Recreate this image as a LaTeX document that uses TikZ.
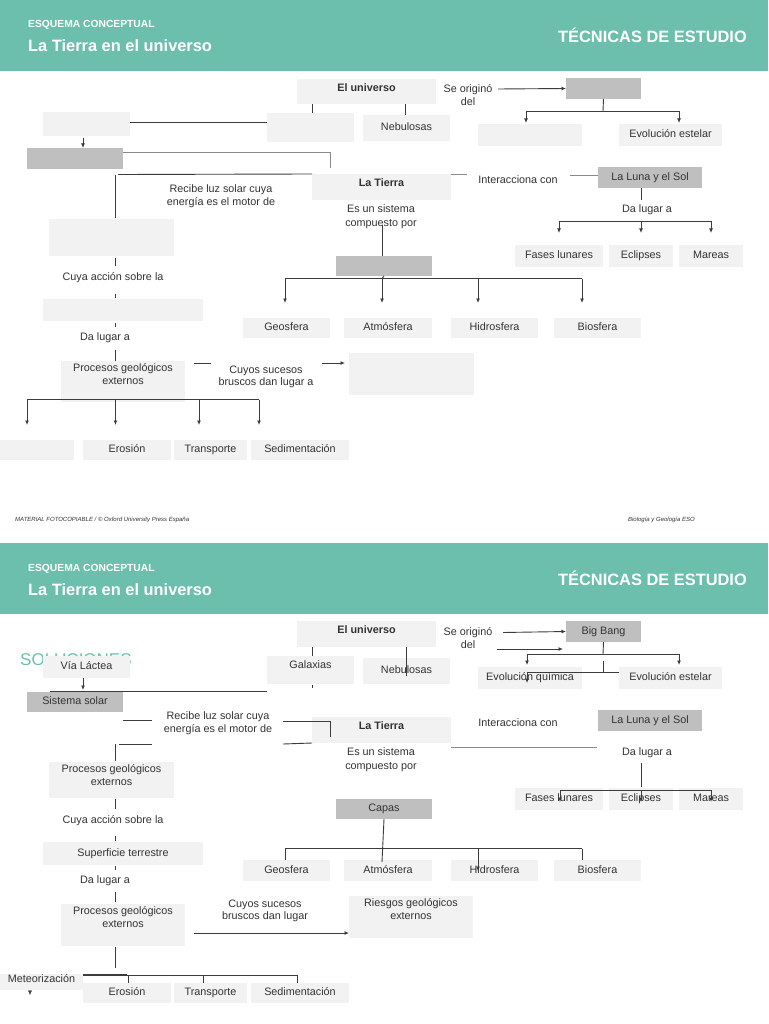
\documentclass[tikz,border=0pt]{standalone}
\usepackage{fontspec}
\setmainfont{Liberation Sans}
\usetikzlibrary{arrows.meta}
\definecolor{hdr}{HTML}{6CBFAD}
\definecolor{lgbox}{HTML}{F2F2F2}
\definecolor{dgbox}{HTML}{BFBFBF}
\definecolor{txt}{HTML}{333333}
\definecolor{lnd}{HTML}{3C3C3C}
\definecolor{lnl}{HTML}{8A8A8A}
\tikzset{
  txtbase/.style={inner sep=0pt, outer sep=0pt, text=txt, align=center, font=\fontsize{10.8}{12.5}\selectfont},
  lbox/.style={txtbase, fill=lgbox, text height=7.8pt, text depth=2.2pt},
  dbox/.style={txtbase, fill=dgbox, text height=7.8pt, text depth=2.2pt},
  tboxfill/.style={txtbase, fill=lgbox},
  lbl/.style={txtbase},
  conn/.style={draw=lnd, line width=0.9pt},
  connl/.style={draw=lnl, line width=0.9pt},
  arr/.style={conn, -{Latex[length=4.5pt,width=4pt]}},
  hsmall/.style={text=white, inner sep=0pt, font=\bfseries\fontsize{10.3}{12}\selectfont},
  hbig/.style={text=white, inner sep=0pt, font=\bfseries\fontsize{16.4}{19}\selectfont},
  foot/.style={text=txt, inner sep=0pt, font=\itshape\fontsize{6}{7}\selectfont},
}
\newcommand\bx[7]{\node[#2, minimum width={#5-#3}, minimum height={#6-#4}] (#1) at ({(#3+#5)/2},{(#4+#6)/2}) {#7};}
\newcommand\tbxo[8]{\node[#2, minimum width={#5-#3}, minimum height={#6-#4}] (#1) at ({(#3+#5)/2},{(#4+#6)/2}) {};
  \node[lbl, anchor=north] (#1-t) at ({(#3+#5)/2},{#4+#8}) {#7};}
\newcommand\tbx[7]{\tbxo{#1}{#2}{#3}{#4}{#5}{#6}{#7}{3}}
\newcommand\pagehead[1]{%
  \fill[hdr] (0,0) rectangle (768,71);
  \node[hsmall, anchor=base west] (#1h1) at (28,28) {ESQUEMA CONCEPTUAL};
  \node[hbig, anchor=base west] (#1h2) at (28,52) {La Tierra en el universo};
  \node[hbig, anchor=base east] (#1h3) at (747,42.5) {TÉCNICAS DE ESTUDIO};}
\begin{document}
\begin{tikzpicture}[x=1pt,y=-1pt]
\useasboundingbox (0,0) rectangle (768,1024);
\fill[white] (0,0) rectangle (768,1024);
% ================= PAGE 1 =================
\begin{scope}
\pagehead{a}
\tbxo{univA}{tboxfill}{297}{79}{436}{104}{\textbf{El universo}}{5}
\node[lbl] (seorA) at (468,95) {Se originó\\del};
\bx{bbA}{dbox}{566}{78}{641}{99}{}
\draw[arr] (498,89) -- (bbA.west);
\bx{evqA}{lbox}{478}{124}{582}{146}{}
\bx{eveA}{lbox}{619}{124}{722}{146}{Evolución estelar}
\coordinate (bbjA) at (603,111);
\draw[conn] (bbA.south) -- (bbjA);
\draw[arr] (bbjA) -| (526,123);
\draw[arr] (bbjA) -| (679,123);
\bx{galA}{lbox}{267}{113}{354}{142}{}
\bx{nebA}{lbox}{363}{115}{450}{141}{Nebulosas}
\draw[conn] (312,104) -- (312,113);
\draw[conn] (405,104) -- (405,115);
\bx{viaA}{lbox}{43}{112}{130}{136}{}
\draw[conn] (130,122) -- (267,122);
\draw[arr] (83,138) -- (83,148);
\bx{ssA}{dbox}{27}{148}{123}{169}{}
\draw[connl] (123,152) -- (330,152) -- (330,168);
\tbxo{tierA}{tboxfill}{312}{174}{451}{200}{\textbf{La Tierra}}{5}
\draw[conn] (118,174.5) -- (tierA.north west);
\draw[conn] (115.5,175) -- (115.5,218);
\node[lbl] (recA) at (221,196) {Recibe luz solar cuya\\energía es el motor de};
\draw[connl] (451,174.5) -- (467,174.5);
\node[lbl] (intA) at (518,180) {Interacciona con};
\bx{lunA}{dbox}{598}{167}{702}{188}{La Luna y el Sol}
\draw[connl] (570,175) -- (lunA.west |- 0,175);
\draw[conn] (641,188) -- (641,200);
\node[lbl] (dlA) at (647,210) {Da lugar a};
\draw[conn] (559,221) -- (711,221);
\foreach \xx in {559,641,711} \draw[arr] (\xx,221) -- (\xx,233);
\bx{fasA}{lbox}{515}{245}{603}{267}{Fases lunares}
\bx{eclA}{lbox}{609}{245}{673}{267}{Eclipses}
\bx{marA}{lbox}{679}{245}{743}{267}{Mareas}
\node[lbl] (esA) at (381,217) {Es un sistema\\[1.5pt]compuesto por};
\draw[conn] (382,225) -- (382,256);
\bx{capA}{dbox}{336}{256}{432}{276}{}
\draw[conn] (capA.south) -- (382,278.5);
\draw[conn] (285,278.5) -- (582,278.5);
\foreach \xx in {285,382,478,582} \draw[arr] (\xx,278.5) -- (\xx,303);
\bx{geoA}{lbox}{243}{318}{330}{338}{Geosfera}
\bx{atmA}{lbox}{344}{318}{432}{338}{Atmósfera}
\bx{hidA}{lbox}{451}{318}{538}{338}{Hidrosfera}
\bx{bioA}{lbox}{554}{318}{641}{338}{Biosfera}
% left column
\bx{pg1A}{lbox}{49}{219}{174}{256}{}
\draw[conn] (115.5,258) -- (115.5,266);
\node[lbl] (cuyaA) at (113,278) {Cuya acción sobre la};
\draw[conn] (115.5,294) -- (115.5,298);
\bx{supA}{lbox}{43}{299}{203}{321}{}
\draw[conn] (115.5,323) -- (115.5,327);
\node[lbl] (dl2A) at (105,338) {Da lugar a};
\draw[conn] (115.5,350) -- (115.5,361);
\tbx{pg2A}{tboxfill}{61}{361}{185}{402}{Procesos geológicos\\externos}
\draw[conn] (194,363) -- (211,363);
\node[lbl] (cuyosA) at (266,377) {Cuyos sucesos\\bruscos dan lugar a};
\draw[arr] (322,363) -- (345,363);
\bx{riesA}{lbox}{349}{353}{474}{395}{}
\draw[conn] (27,399.5) -- (259,399.5);
\foreach \xx in {27,115.5,199,259} \draw[arr] (\xx,399.5) -- (\xx,425);
\bx{metA}{lbox}{0}{440}{74}{460}{}
\bx{eroA}{lbox}{83}{440}{171}{460}{Erosión}
\bx{traA}{lbox}{174}{440}{247}{460}{Transporte}
\bx{sedA}{lbox}{251}{440}{349}{460}{Sedimentación}
\node[foot, anchor=base west] (fA1) at (15,521) {MATERIAL FOTOCOPIABLE / © Oxford University Press España};
\node[foot, anchor=base east] (fA2) at (695,521) {Biología y Geología ESO};
\end{scope}
% ================= PAGE 2 =================
\begin{scope}[shift={(0,543)}]
\pagehead{b}
\node[anchor=base west, text=hdr, inner sep=0pt, font=\fontsize{17}{20}\selectfont] (solB) at (20,122) {SOLUCIONES};
\tbxo{univB}{tboxfill}{297}{78}{436}{104}{\textbf{El universo}}{5}
\node[lbl] (seorB) at (468,95) {Se originó\\del};
\bx{bbB}{dbox}{566}{78}{641}{99}{Big Bang}
\draw[arr] (503,89.5) -- (bbB.west);
\draw[arr] (497,106) -- (563,106);
\bx{evqB}{lbox}{478}{124}{582}{146}{Evolución química}
\bx{eveB}{lbox}{619}{124}{722}{146}{Evolución estelar}
\coordinate (bbjB) at (603,111);
\draw[conn] (bbB.south) -- (bbjB);
\draw[arr] (bbjB) -| (527,122);
\draw[arr] (bbjB) -| (679,122);
\draw[conn] (603,118) -- (603,129);
\draw[conn] (527,129) -- (619,129);
\draw[arr] (527,129) -- (527,140);
\tbxo{galB}{tboxfill}{267}{113}{354}{141}{Galaxias}{5}
\bx{nebB}{lbox}{363}{115}{450}{141}{Nebulosas}
\draw[conn] (312,104) -- (312,113);
\draw[conn] (312,142) -- (312,145);
\draw[conn] (406,104) -- (406,133);
\bx{viaB}{lbox}{43}{113}{130}{135}{Vía Láctea}
\draw[arr] (83,135) -- (83,147);
\draw[conn] (50,148) -- (267,148);
\bx{ssB}{dbox}{27}{149}{123}{169}{Sistema solar}
\tbxo{tierB}{tboxfill}{312}{174}{451}{200}{\textbf{La Tierra}}{5}
\draw[conn] (123,177.5) -- (152,177.5);
\node[lbl] (recB) at (218,180) {Recibe luz solar cuya\\energía es el motor de};
\draw[conn] (283,178) -- (330,178) -- (330,194);
\draw[conn] (283,201) -- (tierB.south west);
\draw[conn] (119,201) -- (152,201);
\draw[conn] (115.5,201) -- (115.5,218);
\node[lbl] (intB) at (518,180) {Interacciona con};
\draw[connl] (tierB.east |- 0,204) -- (597,204);
\bx{lunB}{dbox}{598}{167}{702}{188}{La Luna y el Sol}
\node[lbl] (dlB) at (647,210) {Da lugar a};
\bx{fasB}{lbox}{515}{245}{603}{267}{Fases lunares}
\bx{eclB}{lbox}{609}{245}{673}{267}{Eclipses}
\bx{marB}{lbox}{679}{245}{743}{267}{Mareas}
\draw[conn] (641,220) -- (641,244);
\draw[conn] (560,247) -- (711,247);
\foreach \xx in {560,641,711} \draw[arr] (\xx,247) -- (\xx,259);
\node[lbl] (esB) at (381,217) {Es un sistema\\[1.5pt]compuesto por};
\bx{capB}{dbox}{336}{256}{432}{276}{Capas}
\bx{geoB}{lbox}{243}{317}{330}{338}{Geosfera}
\bx{atmB}{lbox}{344}{317}{432}{338}{Atmósfera}
\bx{hidB}{lbox}{451}{317}{538}{338}{Hidrosfera}
\bx{bioB}{lbox}{554}{317}{641}{338}{Biosfera}
\draw[conn] (capB.south) -- (382,319);
\draw[conn] (285,305.5) -- (582,305.5);
\draw[conn] (285,305.5) -- (285,317);
\draw[conn] (582,305.5) -- (582,317);
\draw[arr] (478,305.5) -- (478,328);
% left column
\tbx{pg1B}{tboxfill}{49}{219}{174}{255}{Procesos geológicos\\externos}
\draw[conn] (115.5,256) -- (115.5,266);
\node[lbl] (cuyaB) at (113,278) {Cuya acción sobre la};
\draw[conn] (115.5,293) -- (115.5,298);
\bx{supB}{lbox}{43}{299}{203}{322}{Superficie terrestre}
\draw[conn] (115.5,323) -- (115.5,327);
\node[lbl] (dl2B) at (105,338) {Da lugar a};
\draw[conn] (115.5,349) -- (115.5,359);
\tbx{pg2B}{tboxfill}{61}{361}{185}{403}{Procesos geológicos\\externos}
\node[lbl] (cuyosB) at (265,368) {Cuyos sucesos\\bruscos dan lugar};
\tbx{riesB}{tboxfill}{349}{353}{473}{395}{Riesgos geológicos\\externos}
\draw[arr] (194,390) -- (riesB.west |- 0,390);
\draw[conn] (115.5,404) -- (115.5,425);
\tbx{metB}{tboxfill}{0}{431}{83}{447}{}
\node[lbl, anchor=north] (metB-t) at (41.5,432) {Meteorización};
\bx{eroB}{lbox}{83}{440}{171}{460}{Erosión}
\bx{traB}{lbox}{174}{440}{247}{460}{Transporte}
\bx{sedB}{lbox}{251}{440}{349}{460}{Sedimentación}
\draw[conn] (83,432) -- (297,432);
\draw[conn, line width=1.1pt] (83,431.5) -- (127,431.5);
\foreach \xx in {128,203,297} \draw[conn] (\xx,432) -- (\xx,440);
\draw[arr, line width=0.4pt] (30,449) -- (30,452);
\end{scope}
\end{tikzpicture}
\end{document}
